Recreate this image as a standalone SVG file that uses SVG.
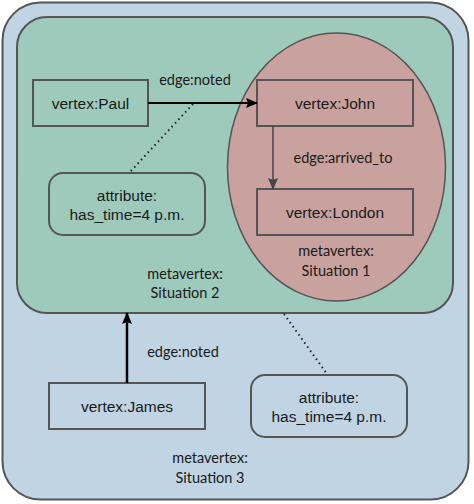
<svg xmlns="http://www.w3.org/2000/svg" width="474" height="504" viewBox="0 0 474 504">
<defs>
<marker id="ah" markerWidth="12" markerHeight="10" refX="11" refY="5" orient="auto" markerUnits="userSpaceOnUse">
<path d="M0,0 L12,5 L0,10 L2,5 Z" fill="#000"/>
</marker>
<marker id="ahg" markerWidth="12" markerHeight="10" refX="11" refY="5" orient="auto" markerUnits="userSpaceOnUse">
<path d="M0,0 L12,5 L0,10 L2,5 Z" fill="#444"/>
</marker>
</defs>
<style>
.box{stroke:#555;stroke-width:2}
.v{font-family:"Liberation Sans",Arial,sans-serif;font-size:15.5px;fill:#1a1a1a;text-anchor:middle}
.l{font-family:Lato,"Open Sans",sans-serif;font-size:14.5px;fill:#1a1a1a;text-anchor:middle}
.dot{stroke:#222;stroke-width:2;stroke-dasharray:1.5 3.5;fill:none}
</style>
<g id="situation3">
<rect x="2.5" y="2.5" width="466" height="497" rx="38" fill="#c0d4e4" class="box"/>
<text class="l" x="210" y="463">metavertex:</text>
<text class="l" x="210" y="483">Situation 3</text>
</g>
<g id="situation2">
<rect x="17" y="17" width="436" height="296" rx="30" fill="#9ecabc" class="box"/>
<text class="l" x="185" y="279">metavertex:</text>
<text class="l" x="185" y="298">Situation 2</text>
</g>
<g id="situation1">
<ellipse cx="336.5" cy="167" rx="109" ry="134" fill="#c9a29f" stroke="#555" stroke-width="1.5"/>
<text class="l" x="336" y="256">metavertex:</text>
<text class="l" x="336" y="276">Situation 1</text>
</g>
<g id="paul">
<rect x="33" y="80" width="115" height="46" fill="#9ecabc" class="box"/>
<text class="v" x="90.5" y="108.5">vertex:Paul</text>
</g>
<g id="john">
<rect x="257" y="80" width="156" height="46" fill="#c9a29f" class="box"/>
<text class="v" x="335" y="108.5">vertex:John</text>
</g>
<g id="london">
<rect x="257" y="189" width="156" height="46" fill="#c9a29f" class="box"/>
<text class="v" x="335" y="217.5">vertex:London</text>
</g>
<g id="attr1">
<rect x="49" y="173" width="156" height="62" rx="14" fill="#9ecabc" class="box"/>
<text class="v" x="127" y="201">attribute:</text>
<text class="v" x="127" y="220">has_time=4 p.m.</text>
</g>
<g id="james">
<rect x="49" y="383" width="156" height="46" fill="#c0d4e4" class="box"/>
<text class="v" x="127" y="411.5">vertex:James</text>
</g>
<g id="attr2">
<rect x="251" y="375" width="156" height="62" rx="14" fill="#c0d4e4" class="box"/>
<text class="v" x="329" y="403">attribute:</text>
<text class="v" x="329" y="422">has_time=4 p.m.</text>
</g>
<g id="connectors">
<line x1="148" y1="103" x2="257" y2="103" stroke="#000" stroke-width="2" marker-end="url(#ah)"/>
<text class="l" x="195" y="85">edge:noted</text>
<line x1="273" y1="126" x2="273" y2="189" stroke="#444" stroke-width="1.5" marker-end="url(#ahg)"/>
<text class="l" x="343" y="163">edge:arrived_to</text>
<line x1="127" y1="383" x2="127" y2="313" stroke="#000" stroke-width="2.5" marker-end="url(#ah)"/>
<text class="l" x="183" y="357">edge:noted</text>
<line class="dot" x1="193" y1="104" x2="130" y2="172"/>
<line class="dot" x1="284" y1="314" x2="327" y2="374"/>
</g>
</svg>
